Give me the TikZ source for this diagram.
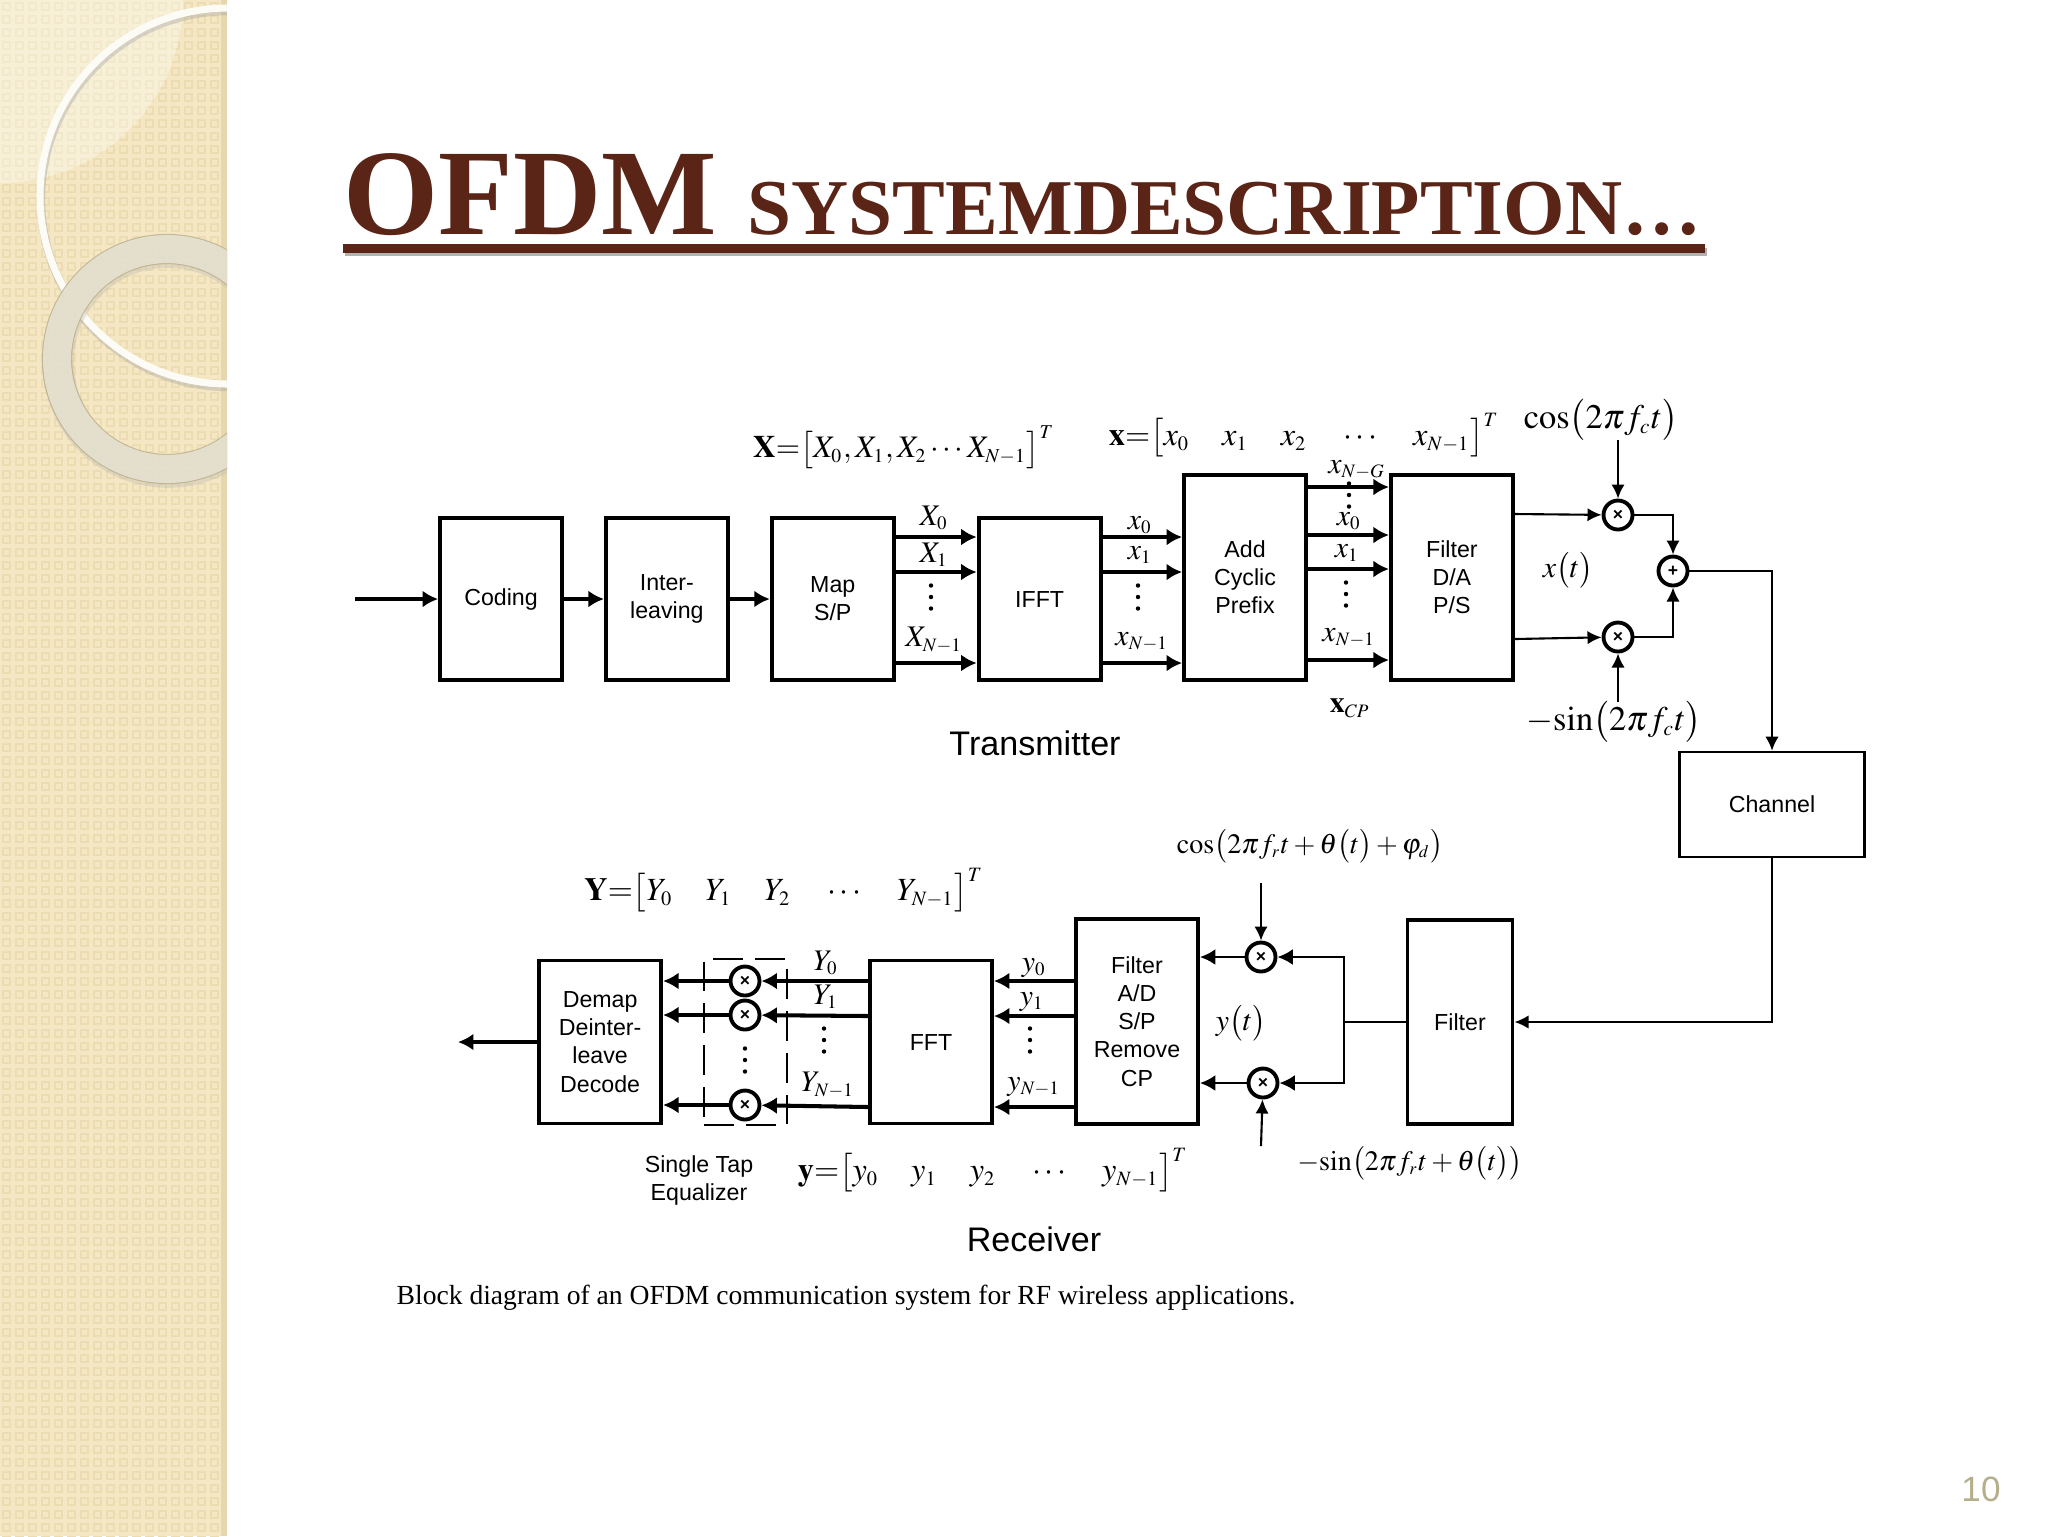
\documentclass[tikz,border=0pt]{standalone}
\usepackage{mathptmx}
\usepackage[no-math]{fontspec}
\setmainfont{Liberation Serif}
\setsansfont{Liberation Sans}
\usetikzlibrary{positioning,arrows.meta}
\definecolor{band}{HTML}{F5E7C3}
\definecolor{tile}{HTML}{ECDCB1}
\definecolor{bandedge}{HTML}{E6D8AE}
\definecolor{brown}{HTML}{5A2416}
\definecolor{pageno}{HTML}{B5AE8A}
\definecolor{ring}{HTML}{E8E3D3}
\definecolor{ringedge}{HTML}{BDB28F}
\DeclareMathSizes{8.5}{8.5}{5.4}{4.2}
\DeclareMathSizes{8.9}{8.9}{5.6}{4.4}
\DeclareMathSizes{9.2}{9.2}{5.8}{4.5}
\DeclareMathSizes{9.8}{9.8}{6}{4.6}
\DeclareMathSizes{8}{8}{5}{4}
\newcommand{\lab}{\fontsize{8.5}{10}\selectfont}
\newcommand{\labvec}{\fontsize{9.2}{11}\selectfont}
\newcommand{\labbig}{\fontsize{9.8}{11}\selectfont}
\newcommand{\labrx}{\fontsize{8}{10}\selectfont}
\newcommand{\boxfont}{\sffamily\fontsize{6.6}{8}\selectfont}
\begin{document}
\begin{tikzpicture}[x=0.1mm,y=-0.1mm]
        \tikzset{block/.style={draw,line width=1.1pt,minimum width=1.22cm,minimum height=1.62cm,align=center,inner sep=0pt,font=\boxfont}}
        \tikzset{tall/.style={block,minimum height=2.05cm}}
        \tikzset{mix/.style={circle,draw,line width=1.1pt,fill=white,minimum size=0.29cm,inner sep=0pt,font=\sffamily\bfseries\fontsize{5}{5}\selectfont}}
        \tikzset{vec/.style={draw,line width=1.15pt,-{Latex[length=4.4pt,width=4.8pt]}}}
        \tikzset{vecmid/.style={draw,line width=0.8pt,-{Latex[length=4.4pt,width=4.6pt]}}}
        \tikzset{vecthin/.style={draw,line width=0.6pt,-{Latex[length=4pt,width=3.8pt]}}}
        \tikzset{sig/.style={inner sep=0pt,font=\lab}}
        \tikzset{head/.style={inner sep=0pt,font=\sffamily\fontsize{9.7}{11}\selectfont}}
        \useasboundingbox (0,0) rectangle (2048,1536);

        % slide background
        \fill[band] (0,0) rectangle (227,1536);
        \foreach \i in {0,...,16} {
            \foreach \j in {0,...,118} {
                \draw[tile,line width=0.6pt] ({\i*13+3},{\j*13+3}) rectangle +(7,7);
            }
        }
        \fill[bandedge] (221,0) rectangle (227,1536);
        \begin{scope}
            \clip (0,0) rectangle (227,1536);
            \fill[white,opacity=0.35] (0,0) -- (183,0) arc[start angle=0,end angle=90,radius=183] -- cycle;
            \draw[black!35,opacity=0.4,line width=2.4pt] (229,199) circle (188);
            \draw[white!85!band,line width=2pt] (228,196) circle (188);
            \draw[black!30,opacity=0.3,line width=9pt] (168,362) circle (110);
            \draw[ringedge,line width=8.6pt,opacity=0.9] (167,359) circle (110);
            \draw[ring,line width=8pt,opacity=0.9] (167,359) circle (110);
        \end{scope}

        % title
        \node[anchor=base west,inner sep=0pt,text=brown,font=\bfseries] (title) at (343,234)
            {\fontsize{34.8}{40}\selectfont OFDM \fontsize{22.5}{26}\selectfont SYSTEMDESCRIPTION…};
        \fill[black!30] (345,248) rectangle (1707,256);
        \fill[brown] (343,244) rectangle (1705,253);
        \node[text=pageno,inner sep=0pt,font=\sffamily\fontsize{10}{12}\selectfont] (page) at (1981,1489) {10};

        % transmitter
        \node[block] (coding) at (501,599) {Coding};
        \node[block,right=0.40cm of coding] (inter) {Inter-\\leaving};
        \node[block,right=0.40cm of inter] (map) {Map\\S/P};
        \node[block,right=0.81cm of map] (ifft) {IFFT};
        \node[tall] (add) at (1245,577.5) {Add\\Cyclic\\Prefix};
        \node[tall,right=0.81cm of add] (txf) {Filter\\D/A\\P/S};
        \node[mix] (m1) at (1618,515) {×};
        \node[mix] (m2) at (1618,637) {×};
        \node[mix] (sum) at (1673,571) {+};
        \node[block,line width=0.7pt,minimum width=1.85cm,minimum height=1.05cm] (channel) at (1772,804.5) {Channel};

        \coordinate (txin) at (355,599);
        \coordinate (lo1) at (1618,440);
        \coordinate (lo2) at (1618,702);
        \draw[vec] (txin) -- (coding);
        \draw[vec] (coding) -- (inter);
        \draw[vec] (inter) -- (map);
        \foreach \y in {537,572,663} {
            \draw[vec] (map.east |- 0,\y) -- (ifft.west |- 0,\y);
            \draw[vec] (ifft.east |- 0,\y) -- (add.west |- 0,\y);
        }
        \foreach \y in {487,535,569,660} {
            \draw[vec] (add.east |- 0,\y) -- (txf.west |- 0,\y);
        }
        \draw[vecthin] (txf.east |- 0,514) -- (m1);
        \draw[vecthin] (txf.east |- 0,639) -- (m2);
        \draw[vecthin] (lo1) -- (m1);
        \draw[vecthin] (lo2) -- (m2);
        \draw[vecthin] (m1) -| (sum);
        \draw[vecthin] (m2) -| (sum);
        \draw[vecthin] (sum) -| (channel);

        \node[sig,font=\fontsize{8.9}{11}\selectfont] (X) at (904,447) {$\mathbf{X}{=}\bigl[X_0,X_1,X_2\cdots X_{N-1}\bigr]^T$};
        \node[sig,font=\labvec] (xvec) at (1304,435) {$\mathbf{x}{=}\bigl[x_0\quad x_1\quad x_2\quad\cdots\quad x_{N-1}\bigr]^T$};
        \node[sig,font=\labbig] (cos1) at (1601,420) {$\cos\bigl(2\pi f_c t\bigr)$};
        \node[sig,font=\labbig] (sin1) at (1614,722) {${-}\!\sin\bigl(2\pi f_c t\bigr)$};
        \node[sig] (xt) at (1568,570) {$x\bigl(t\bigr)$};
        \node[sig] (xcp) at (1350,708) {$\mathbf{x}_{CP}$};
        \node[sig] (X0) at (934,518) {$X_0$};
        \node[sig] (X1) at (934,555) {$X_1$};
        \node[sig] (Xn) at (934,640) {$X_{N-1}$};
        \node[sig] (x0a) at (1140,525) {$x_0$};
        \node[sig] (x1a) at (1140,555) {$x_1$};
        \node[sig] (xna) at (1142,642) {$x_{N-1}$};
        \node[sig] (xg) at (1357,470) {$x_{N-G}$};
        \node[sig] (x0b) at (1349,521) {$x_0$};
        \node[sig] (x1b) at (1347,553) {$x_1$};
        \node[sig] (xnb) at (1349,638) {$x_{N-1}$};
        \node[head] (txt) at (1035,743) {Transmitter};

        % receiver
        \node[block,minimum width=1.05cm,minimum height=2.04cm] (rxf) at (1460,1022) {Filter};
        \node[tall] (adc) at (1137,1021.5) {Filter\\A/D\\S/P\\Remove\\CP};
        \node[block,minimum height=1.63cm] (fft) at (931,1042) {FFT};
        \node[block,minimum height=1.63cm,left=2.05cm of fft] (demap) {Demap\\Deinter-\\leave\\Decode};
        \node[draw,dashed,line width=0.8pt,dash pattern=on 8.5pt off 3.4pt,minimum width=0.83cm,minimum height=1.66cm] (eq) at (745.5,1042) {};
        \node[mix] (m3) at (1261,957) {×};
        \node[mix] (m4) at (1263,1083) {×};
        \node[mix] (e1) at (745,981) {×};
        \node[mix] (e2) at (745,1015) {×};
        \node[mix] (e3) at (745,1105) {×};

        \coordinate (split) at (1344,1022);
        \coordinate (lo3) at (1261,883);
        \coordinate (lo4) at (1261,1146);
        \coordinate (rxout) at (458,1042);
        \draw[vecthin] (channel) |- (rxf);
        \draw[line width=0.8pt] (rxf) -- (split);
        \draw[vecmid] (split) |- (m3);
        \draw[vecmid] (split) |- (m4);
        \draw[vecthin] (lo3) -- (m3);
        \draw[vecthin] (lo4) -- (m4);
        \draw[vecmid] (m3) -- (adc.east |- m3);
        \draw[vecmid] (m4) -- (adc.east |- m4);
        \foreach \n/\y in {1/981,2/1016,3/1107} {
            \draw[vec] (adc.west |- 0,\y) -- (fft.east |- 0,\y);
            \draw[vec] (fft.west |- 0,\y) -- (e\n);
            \draw[vec] (e\n) -- (demap.east |- e\n);
        }
        \draw[vec] (demap) -- (rxout);

        \node[sig,font=\labvec] (Y) at (784,890) {$\mathbf{Y}{=}\bigl[Y_0\quad Y_1\quad Y_2\quad\cdots\quad Y_{N-1}\bigr]^T$};
        \node[sig,font=\labvec] (yvec) at (993,1170) {$\mathbf{y}{=}\bigl[y_0\quad y_1\quad y_2\quad\cdots\quad y_{N-1}\bigr]^T$};
        \node[sig,font=\labrx] (cos2) at (1310,846) {$\cos\bigl(2\pi f_r t+\theta\bigl(t\bigr)+\varphi_d\bigr)$};
        \node[sig,font=\labrx] (sin2) at (1410,1163) {${-}\!\sin\bigl(2\pi f_r t+\theta\bigl(t\bigr)\bigr)$};
        \node[sig] (yt) at (1241,1023) {$y\bigl(t\bigr)$};
        \node[sig] (Y0) at (826,963) {$Y_0$};
        \node[sig] (Y1) at (826,997) {$Y_1$};
        \node[sig] (Yn) at (828,1085) {$Y_{N-1}$};
        \node[sig] (y0) at (1034,968) {$y_0$};
        \node[sig] (y1) at (1032,1002) {$y_1$};
        \node[sig] (yn) at (1034,1087) {$y_{N-1}$};
        \node[inner sep=0pt,align=center,font=\boxfont] (stap) at (699,1180.5) {Single Tap\\Equalizer};
        \node[head] (rxt) at (1034,1239) {Receiver};
        \node[anchor=west,inner sep=0pt,font=\fontsize{7.85}{9}\selectfont] (cap) at (396,1298) {Block diagram of an OFDM communication system for RF wireless applications.};

        % three dots
        \foreach \x/\y in {931/597,1138/597,1349/495,1346/594,824/1040,1030/1040,745/1060} {
            \foreach \d in {-11.5,0,11.5} {
                \fill (\x,{\y+\d}) circle (2.2);
            }
        }
    \end{tikzpicture}
\end{document}
